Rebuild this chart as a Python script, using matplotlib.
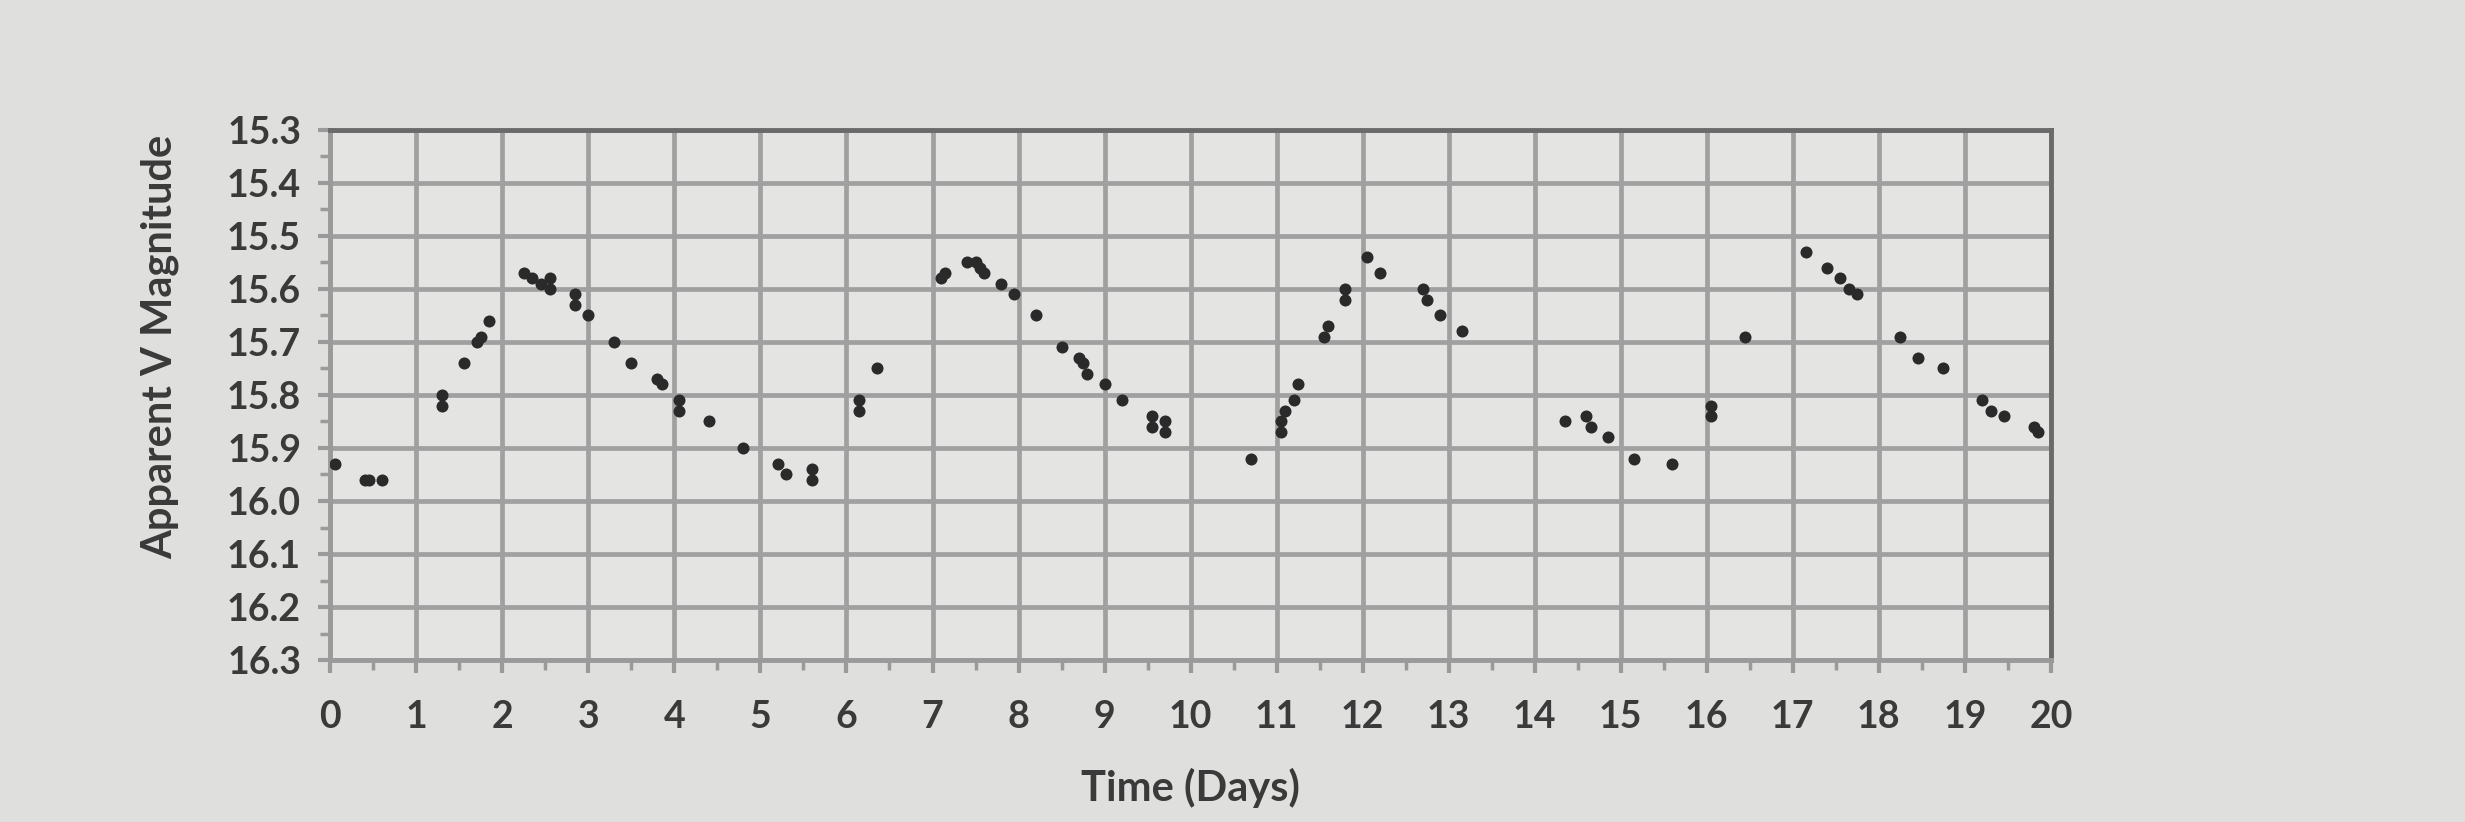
import matplotlib
matplotlib.use("Agg")
import matplotlib.pyplot as plt
from matplotlib.ticker import MultipleLocator

time_days = [0.05, 0.4, 0.45, 0.6, 1.3, 1.3, 1.55, 1.7, 1.75, 1.85,
             2.25, 2.35, 2.45, 2.55, 2.55, 2.85, 2.85, 3.0, 3.3, 3.5,
             3.8, 3.85, 4.05, 4.05, 4.4, 4.8, 5.2, 5.3, 5.6, 5.6,
             6.15, 6.15, 6.35,
             7.1, 7.15, 7.4, 7.5, 7.55, 7.6, 7.8, 7.95, 8.2, 8.5,
             8.7, 8.75, 8.8, 9.0, 9.2, 9.55, 9.55, 9.7, 9.7,
             10.7, 11.05, 11.05, 11.1, 11.2, 11.25, 11.55, 11.6, 11.8, 11.8,
             12.05, 12.2,
             12.7, 12.75, 12.9, 13.15, 14.35, 14.6, 14.65, 14.85, 15.15, 15.6,
             16.05, 16.05, 16.45, 17.15, 17.4, 17.55, 17.65, 17.75,
             18.25, 18.45, 18.75, 19.2, 19.3, 19.45, 19.8, 19.85]
magnitude = [15.93, 15.96, 15.96, 15.96, 15.80, 15.82, 15.74, 15.70, 15.69, 15.66,
             15.57, 15.58, 15.59, 15.58, 15.60, 15.61, 15.63, 15.65, 15.70, 15.74,
             15.77, 15.78, 15.81, 15.83, 15.85, 15.90, 15.93, 15.95, 15.94, 15.96,
             15.81, 15.83, 15.75,
             15.58, 15.57, 15.55, 15.55, 15.56, 15.57, 15.59, 15.61, 15.65, 15.71,
             15.73, 15.74, 15.76, 15.78, 15.81, 15.84, 15.86, 15.85, 15.87,
             15.92, 15.85, 15.87, 15.83, 15.81, 15.78, 15.69, 15.67, 15.60, 15.62,
             15.54, 15.57,
             15.60, 15.62, 15.65, 15.68, 15.85, 15.84, 15.86, 15.88, 15.92, 15.93,
             15.82, 15.84, 15.69, 15.53, 15.56, 15.58, 15.60, 15.61,
             15.69, 15.73, 15.75, 15.81, 15.83, 15.84, 15.86, 15.87]

x_ticks = list(range(0, 21))
y_ticks = [15.3, 15.4, 15.5, 15.6, 15.7, 15.8, 15.9, 16.0, 16.1, 16.2, 16.3]

plt.rcParams['font.family'] = ['Lato', 'DejaVu Sans']

fig = plt.figure(figsize=(24.65, 8.22), dpi=100, facecolor='#dfdfdd')
ax = fig.add_axes([0.134, 0.197, 0.698, 0.645])
ax.set_facecolor('#e4e4e2')

ax.scatter(time_days, magnitude, s=75, color='#2a2a2a', zorder=3, linewidths=0)

ax.set_xlim(0, 20)
ax.set_ylim(16.3, 15.3)
ax.set_xticks(x_ticks)
ax.set_yticks(y_ticks)
ax.set_yticklabels([f"{v:.1f}" for v in y_ticks])
ax.xaxis.set_minor_locator(MultipleLocator(0.5))
ax.yaxis.set_minor_locator(MultipleLocator(0.05))

ax.grid(True, which='major', color='#a0a0a0', linewidth=3.4)
ax.set_axisbelow(True)

for side in ['top', 'right']:
    ax.spines[side].set_color('#6a6a6a')
    ax.spines[side].set_linewidth(3.5)
for side in ['left', 'bottom']:
    ax.spines[side].set_color('#9a9a9a')
    ax.spines[side].set_linewidth(3.5)

ax.tick_params(axis='both', which='major', length=9, width=3, color='#9a9a9a',
               labelsize=27, labelcolor='#3a3a3a')
ax.tick_params(axis='x', which='major', pad=20)
ax.tick_params(axis='y', which='major', pad=12)
ax.tick_params(axis='both', which='minor', length=7, width=2.5, color='#9a9a9a')
for lbl in ax.get_xticklabels() + ax.get_yticklabels():
    lbl.set_fontweight('bold')

ax.set_xlabel('Time (Days)', fontsize=30, fontweight='bold', color='#3a3a3a', labelpad=24)
ax.set_ylabel('Apparent V Magnitude', fontsize=30, fontweight='bold', color='#3a3a3a')
ax.yaxis.set_label_coords(-0.088, 0.59)

fig.savefig('out.png', dpi=100, facecolor=fig.get_facecolor())
